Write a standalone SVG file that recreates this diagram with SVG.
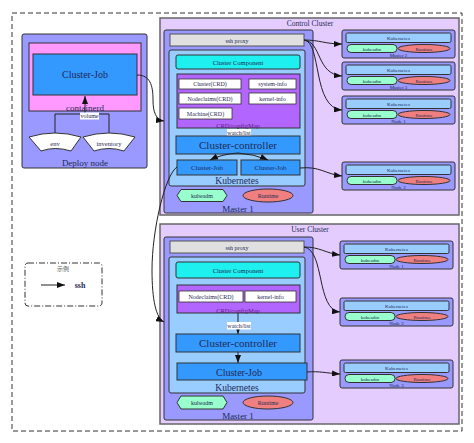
<svg xmlns="http://www.w3.org/2000/svg" width="474" height="443" viewBox="0 0 474 443">
<defs>
<style>
text{font-family:"Liberation Serif","DejaVu Serif",serif;fill:#1f2a55;text-anchor:middle}
.st{stroke:#333;stroke-width:1}
.cluster{fill:#e5ccff;stroke:#666;stroke-width:1.5}
.master{fill:#9999ff;stroke:#333;stroke-width:1}
.k8s{fill:#99ccff;stroke:#333;stroke-width:1}
.ssh{fill:#e0e0e0;stroke:#555;stroke-width:1}
.comp{fill:#1ef0f0;stroke:#333;stroke-width:1}
.crd{fill:#b366ff;stroke:#333;stroke-width:1}
.white{fill:#fff;stroke:#333;stroke-width:0.8}
.blue{fill:#3399ff;stroke:#333;stroke-width:1}
.mint{fill:#99ffcc;stroke:#333;stroke-width:1}
.salmon{fill:#f08080;stroke:#333;stroke-width:1}
.conn{fill:none;stroke:#222;stroke-width:1}
.s5{font-size:5px}
.s6{font-size:6px}
.s65{font-size:6.5px}
</style>
<marker id="ah" markerWidth="8" markerHeight="6" refX="8" refY="3" orient="auto" markerUnits="userSpaceOnUse">
<path d="M0,0 L8,3 L0,6 z" fill="#111"/>
</marker>
<g id="smallnode">
<rect x="0" y="0" width="113" height="28" rx="2" class="master"/>
<rect x="4" y="3" width="105" height="9.5" rx="1.5" class="k8s"/>
<text x="56.5" y="9.8" class="s5">Kubernetes</text>
<rect x="5" y="14.5" width="50" height="8" rx="4" class="mint"/>
<text x="30" y="20.5" class="s5">kubeadm</text>
<ellipse cx="82" cy="18.5" rx="26" ry="4" class="salmon"/>
<text x="82" y="20.5" class="s5">Runtime</text>
</g>
</defs>

<rect x="12" y="13" width="450" height="418" fill="none" stroke="#333" stroke-dasharray="5,3"/>

<g id="deploy-node">
<rect x="22" y="34" width="125" height="134" rx="2" class="master"/>
<rect x="29" y="43" width="112" height="68" fill="#ff99ff" class="st"/>
<rect x="33" y="54" width="104" height="41" class="blue"/>
<text x="85" y="78" style="font-size:10px">Cluster-Job</text>
<text x="85" y="111" style="font-size:9px">containerd</text>
<path d="M55,134 L55,114 L109,114 L109,134" class="conn" stroke="#333"/>
<line x1="85" y1="114" x2="85" y2="96" class="conn" marker-end="url(#ah)"/>
<rect x="80" y="112.5" width="19" height="7" fill="#fff"/>
<text x="89.5" y="118" class="s6">volume</text>
<path d="M29,137 Q55,129 81,137 L71,151 Q55,146 41,151 Z" fill="#fff" class="st"/>
<text x="55" y="145.5" class="s65">env</text>
<path d="M83,137 Q109,129 135,137 L124,151 Q109,146 94,151 Z" fill="#fff" class="st"/>
<text x="109" y="145.5" class="s65">inventory</text>
<text x="85" y="166" style="font-size:9px">Deploy node</text>
</g>

<g id="control-cluster">
<rect x="160" y="18" width="299" height="197" class="cluster"/>
<text x="310" y="26" style="font-size:7.5px">Control Cluster</text>
</g>

<g id="control-master1">
<rect x="164" y="30" width="149" height="183" rx="2" class="master"/>
<rect x="170" y="34" width="134" height="12" class="ssh"/>
<text x="237" y="42.5" class="s6">ssh proxy</text>
<rect x="169" y="50" width="136" height="136" rx="2" class="k8s"/>
<rect x="176" y="55" width="124" height="14" rx="2" class="comp"/>
<text x="238" y="64.5" class="s65">Cluster Component</text>
<rect x="177" y="74" width="123" height="54" class="crd"/>
<rect x="179" y="79" width="62" height="10" class="white"/>
<text x="210" y="86.2" class="s6">Cluster(CRD)</text>
<rect x="179" y="93" width="62" height="11" class="white"/>
<text x="210" y="100.7" class="s6">Nodeclaims(CRD)</text>
<rect x="179" y="108" width="53" height="11" class="white"/>
<text x="205.5" y="115.7" class="s6">Machine(CRD)</text>
<rect x="249" y="79" width="47" height="10" class="white"/>
<text x="272.5" y="86.2" class="s6">system-info</text>
<rect x="249" y="93" width="47" height="11" class="white"/>
<text x="272.5" y="100.7" class="s6">kernel-info</text>
<text x="238" y="127.5" class="s65" style="fill:#5a1a7a">CRD/configMap</text>
<line x1="238" y1="128" x2="238" y2="136" class="conn"/>
<rect x="227" y="129" width="24" height="7" fill="#fff"/>
<text x="239" y="134.8" class="s6">watch/list</text>
<rect x="176" y="136" width="124" height="18" class="blue"/>
<text x="238" y="149" style="font-size:11px">Cluster-controller</text>
<rect x="177" y="160" width="60" height="15" class="blue"/>
<text x="207" y="170.3" style="font-size:7px">Cluster-Job</text>
<rect x="241" y="160" width="59" height="15" class="blue"/>
<text x="270.5" y="170.3" style="font-size:7px">Cluster-Job</text>
<path d="M238,153 Q222,154 210,160" class="conn" marker-end="url(#ah)"/>
<path d="M238,153 Q254,154 268,160" class="conn" marker-end="url(#ah)"/>
<text x="237" y="184" style="font-size:9.5px">Kubernetes</text>
<polygon points="177,195.5 181,189.5 223,189.5 227,195.5 223,201.5 181,201.5" class="mint"/>
<text x="202" y="197.5" class="s6">kubeadm</text>
<ellipse cx="268" cy="195.5" rx="25" ry="6.5" class="salmon"/>
<text x="268" y="197.5" class="s6">Runtime</text>
<text x="238" y="211.5" style="font-size:9px">Master 1</text>
</g>

<g id="control-master2"><use href="#smallnode" x="342" y="30"/><text x="398.5" y="56.5" class="s5">Master 2</text></g>
<g id="control-master3"><use href="#smallnode" x="342" y="62"/><text x="398.5" y="88.5" class="s5">Master 3</text></g>
<g id="control-node1"><use href="#smallnode" x="342" y="96"/><text x="398.5" y="122.5" class="s5">Node 1</text></g>
<g id="control-node2"><use href="#smallnode" x="342" y="162"/><text x="398.5" y="188.5" class="s5">Node 2</text></g>

<g id="user-cluster">
<rect x="160" y="224" width="299" height="200" class="cluster"/>
<text x="310" y="232" style="font-size:7.5px">User Cluster</text>
</g>

<g id="user-master1">
<rect x="164" y="237" width="149" height="183" rx="2" class="master"/>
<rect x="170" y="241" width="134" height="12" class="ssh"/>
<text x="237" y="249.5" class="s6">ssh proxy</text>
<rect x="169" y="257" width="136" height="136" rx="2" class="k8s"/>
<rect x="176" y="262" width="124" height="16" rx="2" class="comp"/>
<text x="238" y="272.5" class="s65">Cluster Component</text>
<rect x="177" y="285" width="123" height="28" class="crd"/>
<rect x="179" y="291" width="64" height="11" class="white"/>
<text x="211" y="298.7" class="s6">Nodeclaims(CRD)</text>
<rect x="245" y="291" width="51" height="11" class="white"/>
<text x="270.5" y="298.7" class="s6">kernel-info</text>
<text x="238" y="312.5" class="s65" style="fill:#5a1a7a">CRD/configMap</text>
<line x1="238" y1="313" x2="238" y2="334" class="conn" marker-end="url(#ah)"/>
<rect x="227" y="322" width="24" height="7.5" fill="#fff"/>
<text x="239" y="328" class="s6">watch/list</text>
<rect x="176" y="334" width="124" height="18" class="blue"/>
<text x="238" y="347" style="font-size:11px">Cluster-controller</text>
<line x1="238" y1="352" x2="238" y2="363" class="conn" marker-end="url(#ah)"/>
<rect x="177" y="363" width="130" height="17" class="blue"/>
<text x="239" y="375.5" style="font-size:10px">Cluster-Job</text>
<text x="237" y="391" style="font-size:9.5px">Kubernetes</text>
<polygon points="177,402.5 181,396 223,396 227,402.5 223,409 181,409" class="mint"/>
<text x="202" y="404.5" class="s6">kubeadm</text>
<ellipse cx="268" cy="402.5" rx="25" ry="6.5" class="salmon"/>
<text x="268" y="404.5" class="s6">Runtime</text>
<text x="238" y="418.5" style="font-size:9px">Master 1</text>
</g>

<g id="user-node1"><use href="#smallnode" x="340" y="241"/><text x="396.5" y="267.5" class="s5">Node 1</text></g>
<g id="user-node2"><use href="#smallnode" x="340" y="298"/><text x="396.5" y="324.5" class="s5">Node 2</text></g>
<g id="user-node3"><use href="#smallnode" x="340" y="360"/><text x="396.5" y="386.5" class="s5">Node 3</text></g>

<g id="legend">
<rect x="25" y="263" width="77" height="43" rx="3" fill="none" stroke="#333" stroke-dasharray="6,2,1,2"/>
<text x="63" y="271" style="font-size:6px;fill:#555;font-family:'Liberation Serif','Noto Sans CJK SC',serif">示例</text>
<line x1="41" y1="285" x2="65" y2="285" class="conn" marker-end="url(#ah)"/>
<text x="80" y="288" style="font-size:8px;font-weight:bold">ssh</text>
</g>

<g id="connectors">
<path d="M137,75 C150,75 153,85 153,100 C153,112 156,120 164,121" class="conn" marker-end="url(#ah)"/>
<path d="M177,167 C165,175 152,230 152,270 C152,300 156,318 164,322" class="conn" marker-end="url(#ah)"/>
<path d="M304,40 C320,40 325,44 342,44" class="conn" marker-end="url(#ah)"/>
<path d="M304,40 C322,42 316,74 342,76" class="conn" marker-end="url(#ah)"/>
<path d="M304,40 C322,42 312,108 342,110" class="conn" marker-end="url(#ah)"/>
<path d="M300,168 C320,166 325,174 342,176" class="conn" marker-end="url(#ah)"/>
<path d="M304,247 C320,247 325,253 340,255" class="conn" marker-end="url(#ah)"/>
<path d="M304,247 C325,250 316,310 340,312" class="conn" marker-end="url(#ah)"/>
<path d="M307,372 C320,371 325,373 340,374" class="conn" marker-end="url(#ah)"/>
</g>
</svg>
